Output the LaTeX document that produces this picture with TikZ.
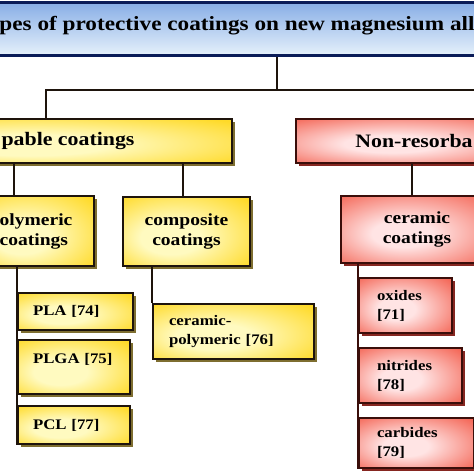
\documentclass[tikz,border=0pt]{standalone}
\usepackage{fontspec}
\setmainfont{Liberation Serif}[FakeStretch=1.15]
\usepackage{tikz}
\usetikzlibrary{shadows}
\definecolor{goldhi}{HTML}{FFDA28}
\definecolor{goldlo}{HTML}{FFFAC0}
\definecolor{goldshade}{HTML}{7E6E30}
\definecolor{salmonhi}{HTML}{F46656}
\definecolor{salmonlo}{HTML}{FFE4E4}
\definecolor{salmonshade}{HTML}{862620}
\definecolor{skyhi}{HTML}{88AEE6}
\definecolor{skylo}{HTML}{E6F1FB}
\definecolor{navyline}{HTML}{0B1C58}
\definecolor{inkline}{HTML}{1E140C}
\definecolor{redink}{HTML}{3A0E0A}
\pgfdeclareradialshading{goldglow}{\pgfpoint{-8bp}{-6bp}}{color(0bp)=(goldlo);
  color(12bp)=(goldlo); color(36bp)=(goldhi); color(50bp)=(goldhi)}
\pgfdeclareradialshading{salmonglow}{\pgfpoint{-6bp}{-4bp}}{color(0bp)=(salmonlo);
  color(10bp)=(salmonlo); color(36bp)=(salmonhi); color(50bp)=(salmonhi)}

\begin{document}
\begin{tikzpicture}[x=1pt,y=-1pt]
  \tikzstyle{bx}=[draw=inkline, line width=2pt, inner sep=0pt]
  \tikzstyle{ybx}=[bx, shade, shading=goldglow,
    drop shadow={shadow xshift=3pt, shadow yshift=-3pt, opacity=1, fill=goldshade}]
  \tikzstyle{rbx}=[bx, draw=redink, shade, shading=salmonglow,
    drop shadow={shadow xshift=3pt, shadow yshift=-3pt, opacity=1, fill=salmonshade}]
  \tikzstyle{lvlone}=[font=\bfseries\fontsize{19}{23}\selectfont]
  \tikzstyle{lvltwo}=[align=left, font=\bfseries\fontsize{17}{20}\selectfont]
  \tikzstyle{leaf}=[anchor=north west, align=left, inner xsep=15pt,
    font=\bfseries\fontsize{14.6}{19}\selectfont]
  \tikzstyle{wire}=[draw=inkline, line width=2.5pt]

  \useasboundingbox (0,0) rectangle (474,474);
  \clip (0,0) rectangle (474,474);

  \node[bx, draw=navyline, line width=3pt, top color=skyhi, bottom color=skylo,
    minimum width=674pt, minimum height=53pt, text height=13pt, text depth=11pt,
    font=\bfseries\fontsize{20.2}{24}\selectfont]
    (title) at (237,29) {pes of protective coatings on new magnesium all};

  \node[ybx, lvlone, minimum width=328pt, minimum height=44pt]
    (resorb) at (68,141) {pable coatings};
  \node[rbx, lvlone, minimum width=236pt, minimum height=44pt]
    (nonres) at (414,141) {Non-resorba};

  \node[ybx, lvltwo, minimum width=116pt, minimum height=70pt]
    (polym) at (36,231) {olymeric\\coatings};
  \node[ybx, lvltwo, align=center, minimum width=127pt, minimum height=69pt]
    (compo) at (186.5,231.5) {composite\\coatings};
  \node[rbx, lvltwo, align=center, minimum width=152pt, minimum height=67pt]
    (ceramic) at (417,229.5) {ceramic\\coatings};

  \node[ybx, leaf, text width=85pt, minimum height=37pt] (pla) at (17,292) {PLA [74]};
  \node[ybx, leaf, text width=82pt, minimum height=54pt, text height=10pt,
    text depth=18pt] (plga) at (17,339) {PLGA [75]};
  \node[ybx, leaf, text width=82pt, minimum height=38pt] (pcl) at (17,405) {PCL [77]};
  \node[ybx, leaf, inner xsep=16pt, text width=129pt, minimum height=55pt]
    (cpoly) at (152,303) {ceramic-\\polymeric [76]};

  \node[rbx, leaf, inner xsep=18pt, text width=57pt, minimum height=55pt]
    (oxides) at (358,277) {oxides\\{[71]}};
  \node[rbx, leaf, inner xsep=18pt, text width=67pt, minimum height=55pt]
    (nitrides) at (358,347) {nitrides\\{[78]}};
  \node[rbx, leaf, inner xsep=18pt, text width=79pt, minimum height=50pt]
    (carbides) at (358,417) {carbides\\{[79]}};

  \coordinate (split) at (277,90);
  \draw[wire] (title.south -| split) -- (split);
  \draw[wire] ([xshift=-22pt]resorb.north) |- (split);
  \draw[wire] (split) -| ([xshift=72pt]nonres.north);

  \draw[wire] ([xshift=-22pt]polym.north) -- ([xshift=-22pt]polym.north |- resorb.south);
  \draw[wire] ([xshift=-3.5pt]compo.north) -- ([xshift=-3.5pt]compo.north |- resorb.south);
  \draw[wire] ([xshift=-5pt]ceramic.north) -- ([xshift=-5pt]ceramic.north |- nonres.south);

  \draw[wire] (polym.south -| pcl.south west) -- (pcl.south west);
  \draw[wire] (compo.south -| cpoly.north west) -- (cpoly.north west);
  \draw[wire, draw=redink] (ceramic.south -| carbides.south west) -- (carbides.south west);
\end{tikzpicture}
\end{document}
